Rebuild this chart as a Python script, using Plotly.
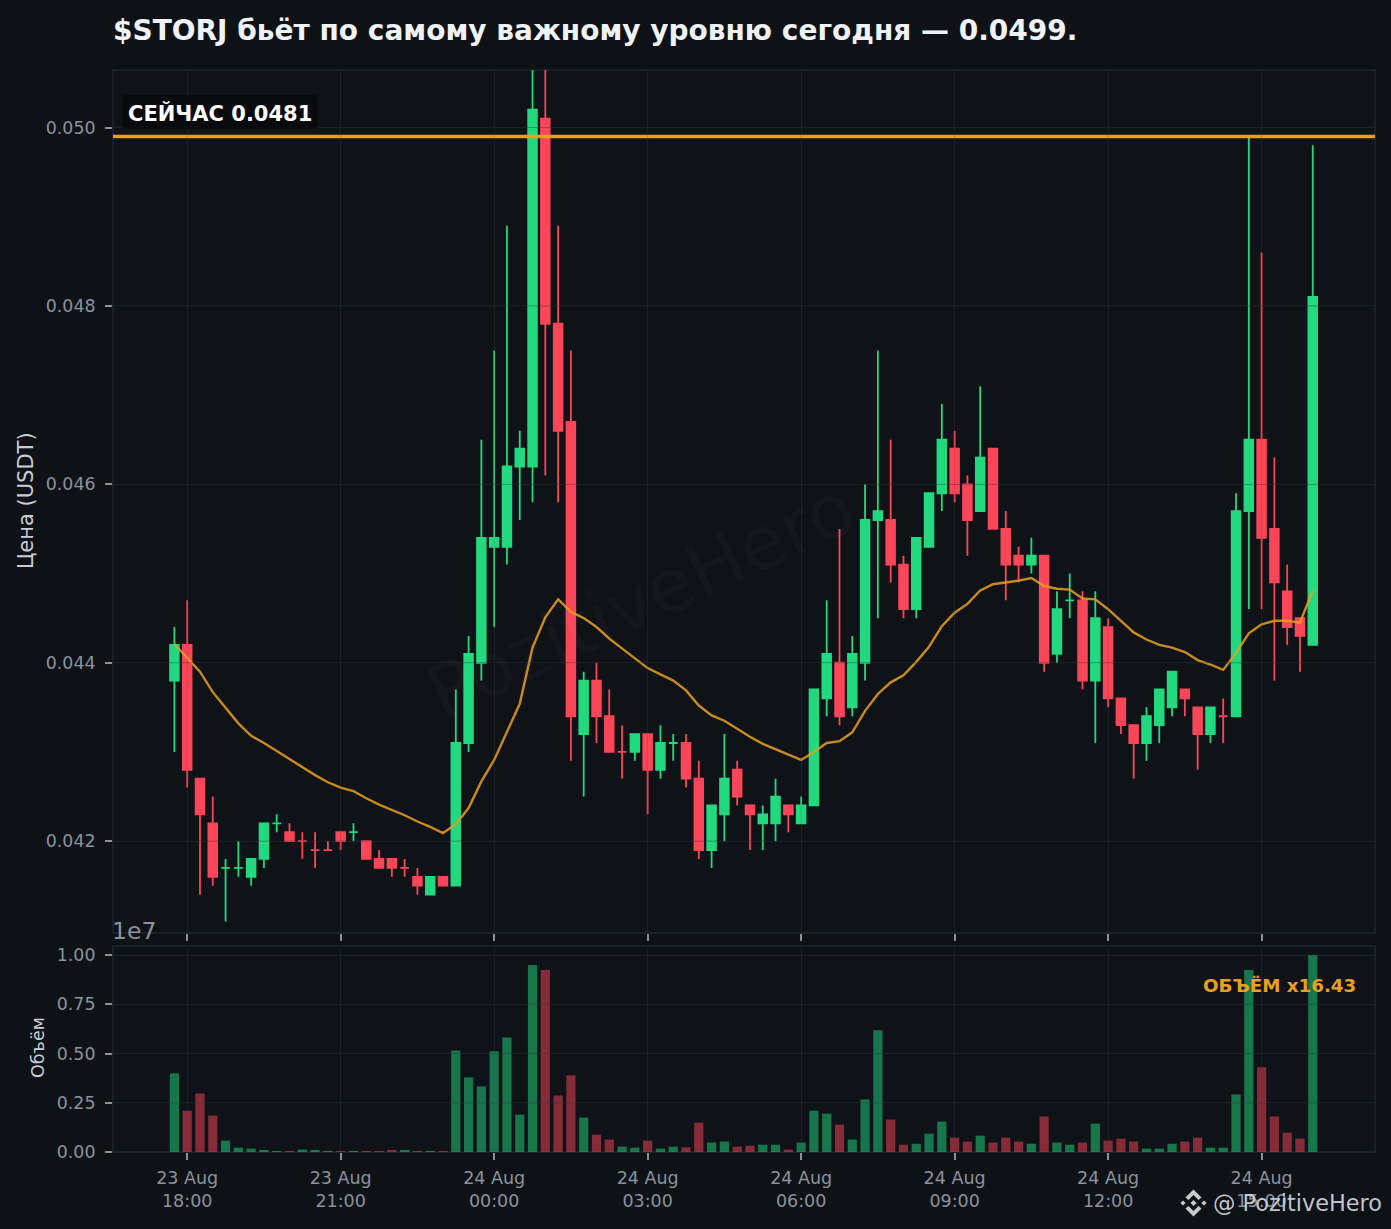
import plotly.graph_objects as go
import pandas as pd

W, H = 1391, 1229
BG = "#0e1217"
PLOT_BG = "#0f1318"
GRID = "#1b2027"
GRID_OVER = "rgba(28,33,40,0.35)"
GRID_OVER_V = "rgba(28,33,40,0.15)"
SPINE = "#1f2630"
TICK = "#8b929c"
UP = "#22d97f"
DOWN = "#fb4659"
ORANGE = "#e8a01f"

TITLE = "$STORJ бьёт по самому важному уровню сегодня — 0.0499."
LEVEL = 0.0499
NOW_LABEL = "СЕЙЧАС 0.0481"
VOL_LABEL = "ОБЪЁМ x16.43"
BRAND = "@ PozitiveHero"
WATERMARK = "PozitiveHero"

# prices in units of 0.0001
opens = [438,442,427,422,417,417,416,418,422,421,420,419,419,421,421,420,418,418,417,416,414,416,415,431,440,453,453,462,462,501,478,467,
         432,438,434,430,430,432,428,431,431,427,419,423,428,424,422,422,424,422,424,436,440,435,440,456,456,451,446,453,459,464,460,457,464,455,452,451,452,441,447,447,438,444,436,433,431,433,435,437,435,432,434,434,457,465,455,448,445,442]
highs = [444,447,427,425,418,420,418,422,423,422,421,421,420,421,422,420,419,418,418,417,416,416,437,443,465,475,489,466,510,510,489,475,
         439,440,437,433,432,432,433,432,432,429,424,432,429,424,424,427,424,425,437,447,455,443,460,475,465,452,454,459,469,466,461,471,464,457,453,454,452,448,450,448,448,445,436,433,435,437,439,437,435,435,436,459,499,486,463,451,445,498]
lows = [430,426,414,415,411,416,415,417,421,420,418,417,419,419,420,418,417,416,416,414,414,415,415,430,438,444,451,456,458,461,458,429,
        425,431,430,427,429,423,427,429,426,418,417,420,424,419,419,420,421,422,424,434,433,434,438,445,449,445,445,453,457,458,452,457,455,447,449,450,439,440,445,437,431,435,432,427,429,431,434,434,428,431,431,434,446,446,438,442,439,442]
closes = [442,428,423,416,417,417,418,422,422,420,420,419,419,420,421,418,417,417,417,415,416,415,431,441,454,454,462,464,502,478,466,434,
          438,434,430,430,432,428,431,431,427,419,424,427,425,423,423,425,423,424,437,441,434,441,456,457,451,446,454,459,465,459,456,463,455,451,451,452,440,446,447,438,445,436,433,431,434,437,439,436,432,435,434,457,465,454,449,444,443,481]
ma = [442.1,440.6,439,436.7,434.9,433.2,431.8,431,430.1,429.2,428.3,427.4,426.6,426,425.6,424.8,424.1,423.5,422.9,422.2,421.6,420.9,421.9,423.7,426.7,429.1,432.3,435.4,441.7,445.1,447.1,445.7,
      445,444,442.7,441.6,440.6,439.4,438.7,438,436.9,435.2,434.1,433.5,432.6,431.7,430.9,430.3,429.7,429.1,430,431,431.2,432.2,434.6,436.5,437.8,438.6,440.1,441.8,444.1,445.6,446.6,448.1,448.8,449,449.2,449.5,448.6,448.3,448.2,447.2,447.1,446,444.7,443.4,442.6,442,441.7,441.2,440.3,439.8,439.2,441.1,443.3,444.3,444.7,444.7,444.5,448.1]
volumes = [0.399,0.21,0.297,0.185,0.058,0.022,0.017,0.007,0.001,0.001,0.012,0.007,0.001,0.001,0.001,0.001,0.001,0.006,0.007,0.001,0.001,0.001,0.516,0.379,0.333,0.511,0.582,0.19,0.949,0.924,0.287,0.389,
           0.175,0.088,0.063,0.027,0.022,0.058,0.017,0.027,0.024,0.149,0.048,0.053,0.027,0.032,0.037,0.037,0.012,0.048,0.21,0.195,0.139,0.063,0.267,0.618,0.165,0.037,0.042,0.093,0.154,0.073,0.053,0.083,0.048,0.073,0.053,0.042,0.18,0.048,0.037,0.048,0.144,0.058,0.068,0.053,0.017,0.017,0.042,0.053,0.073,0.022,0.022,0.292,0.924,0.43,0.18,0.098,0.068,1.0]
times = pd.date_range("2025-08-23 17:45", periods=len(opens), freq="15min").strftime("%Y-%m-%d %H:%M").tolist()

tick_times = ["2025-08-23 18:00","2025-08-23 21:00","2025-08-24 00:00","2025-08-24 03:00","2025-08-24 06:00","2025-08-24 09:00","2025-08-24 12:00","2025-08-24 15:00"]
tick_labels = ["23 Aug<br>18:00","23 Aug<br>21:00","24 Aug<br>00:00","24 Aug<br>03:00","24 Aug<br>06:00","24 Aug<br>09:00","24 Aug<br>12:00","24 Aug<br>15:00"]
price_ticks = [0.042,0.044,0.046,0.048,0.050]
vol_ticks = [0,0.25,0.5,0.75,1.0]
x_range = ["2025-08-23 16:33","2025-08-24 17:13"]
price_range = [0.04097,0.050645]
vol_range = [0,1.046]

scale = lambda arr: [round(v*1e-4,5) for v in arr]
px = lambda x: x/W
py = lambda y: 1-y/H

fig = go.Figure()
fig.add_trace(go.Candlestick(x=times, open=scale(opens), high=scale(highs), low=scale(lows), close=scale(closes),
    xaxis="x", yaxis="y", whiskerwidth=0,
    increasing=dict(line=dict(color=UP,width=1.8), fillcolor=UP),
    decreasing=dict(line=dict(color=DOWN,width=1.8), fillcolor=DOWN), showlegend=False))
fig.add_trace(go.Scatter(x=times, y=scale(ma), mode="lines", line=dict(color=ORANGE,width=2.4), opacity=0.85, xaxis="x", yaxis="y", showlegend=False))
fig.add_trace(go.Scatter(x=x_range, y=[LEVEL,LEVEL], mode="lines", line=dict(color=ORANGE,width=3.5), xaxis="x", yaxis="y", showlegend=False))
vol_colors = [UP if c>=o else DOWN for o,c in zip(opens,closes)]
fig.add_trace(go.Bar(x=times, y=volumes, marker=dict(color=vol_colors,line_width=0), opacity=0.5, xaxis="x2", yaxis="y2", showlegend=False))

common_x = dict(type="date", range=x_range, tickvals=tick_times, showgrid=True, gridcolor=GRID, gridwidth=1,
                ticks="outside", ticklen=7, tickwidth=1.5, tickcolor=TICK, rangeslider=dict(visible=False),
                showline=False, zeroline=False)
common_y = dict(showgrid=True, gridcolor=GRID, gridwidth=1, ticks="outside", ticklen=7, tickwidth=1.5, tickcolor=TICK,
                ticklabelstandoff=6, tickfont=dict(family="DejaVu Sans",size=17.4,color=TICK), zeroline=False, showline=False)
sp = dict(color=SPINE,width=1.5)
shapes = [
    dict(type="rect",xref="paper",yref="paper",x0=px(113),x1=px(1375),y0=py(933),y1=py(70),line=sp,layer="below"),
    dict(type="rect",xref="paper",yref="paper",x0=px(113),x1=px(1375),y0=py(1152),y1=py(946),line=sp,layer="below"),
]
# grid drawn again over the marks, as in the reference
for xa,ya,ticks in (("x","y",price_ticks),("x2","y2",vol_ticks[1:])):
    for t in ticks:
        shapes.append(dict(type="line",xref=f"{xa} domain",yref=ya,x0=0,x1=1,y0=t,y1=t,line=dict(color=GRID_OVER,width=1),layer="above"))
    for t in tick_times:
        shapes.append(dict(type="line",xref=xa,yref=f"{ya} domain",x0=t,x1=t,y0=0,y1=1,line=dict(color=GRID_OVER_V,width=1),layer="above"))
def rounded(x0,y0,x1,y1,r):
    return f"M {px(x0+r)} {py(y0)} L {px(x1-r)} {py(y0)} Q {px(x1)} {py(y0)} {px(x1)} {py(y0+r)} L {px(x1)} {py(y1-r)} Q {px(x1)} {py(y1)} {px(x1-r)} {py(y1)} L {px(x0+r)} {py(y1)} Q {px(x0)} {py(y1)} {px(x0)} {py(y1-r)} L {px(x0)} {py(y0+r)} Q {px(x0)} {py(y0)} {px(x0+r)} {py(y0)} Z"
shapes.append(dict(type="path",xref="paper",yref="paper",path=rounded(123,95,317,129,3),fillcolor="rgba(8,10,13,0.9)",line=dict(width=0),layer="above"))
def diamond(cx,cy,r):
    return f"M {px(cx)} {py(cy-r)} L {px(cx+r)} {py(cy)} L {px(cx)} {py(cy+r)} L {px(cx-r)} {py(cy)} Z"
LOGO = "#c8ccd2"
cx, cy = 1193.5, 1203
for dx,dy,r in [(-10.5,0,2.6),(10.5,0,2.6),(0,0,3)]:
    shapes.append(dict(type="path",xref="paper",yref="paper",path=diamond(cx+dx,cy+dy,r),fillcolor=LOGO,line=dict(width=0),layer="above"))
chev_up = f"M {px(cx)} {py(cy-13.5)} L {px(cx+8)} {py(cy-5.5)} L {px(cx+5)} {py(cy-3)} L {px(cx)} {py(cy-8)} L {px(cx-5)} {py(cy-3)} L {px(cx-8)} {py(cy-5.5)} Z"
chev_dn = f"M {px(cx)} {py(cy+13.5)} L {px(cx+8)} {py(cy+5.5)} L {px(cx+5)} {py(cy+3)} L {px(cx)} {py(cy+8)} L {px(cx-5)} {py(cy+3)} L {px(cx-8)} {py(cy+5.5)} Z"
for p in (chev_up,chev_dn):
    shapes.append(dict(type="path",xref="paper",yref="paper",path=p,fillcolor=LOGO,line=dict(width=0),layer="above"))

def ann(text,x,y,size,color,xanchor="left",angle=0,bold=False,yanchor="middle"):
    return dict(text=f"<b>{text}</b>" if bold else text,xref="paper",yref="paper",x=px(x),y=py(y),showarrow=False,
                xanchor=xanchor,yanchor=yanchor,textangle=angle,font=dict(family="DejaVu Sans",size=size,color=color))
annotations = [
    ann(TITLE,111,30,28,"#f0f3f6",bold=True),
    ann(NOW_LABEL,126,113,21,"#ffffff",bold=True),
    ann(VOL_LABEL,1358,985,18.3,ORANGE,xanchor="right",bold=True),
    ann("1e7",110,931,23.5,TICK),
    ann("Цена (USDT)",26,501,21,"#c9cdd3",xanchor="center",angle=-90),
    ann("Объём",38,1048,17.5,"#c9cdd3",xanchor="center",angle=-90),
    ann(WATERMARK,640,600,74,"rgba(255,255,255,0.022)",xanchor="center",angle=-25),
    ann(BRAND,1211,1203,22.4,"rgba(205,209,215,0.95)"),
]

fig.update_layout(
    width=W,height=H,autosize=False,margin=dict(l=0,r=0,t=0,b=0,autoexpand=False),
    paper_bgcolor=BG,plot_bgcolor=PLOT_BG,boxgap=0.03,bargap=0.28,
    font=dict(family="DejaVu Sans",color=TICK),
    xaxis=dict(domain=[px(113),px(1375)],anchor="y",showticklabels=False,**common_x),
    yaxis=dict(domain=[py(933),py(70)],anchor="x",range=price_range,tickvals=price_ticks,tickformat=".3f",**common_y),
    xaxis2=dict(domain=[px(113),px(1375)],anchor="y2",showticklabels=True,ticktext=tick_labels,ticklabelstandoff=3,
                tickfont=dict(family="DejaVu Sans",size=17.5,color=TICK),**common_x),
    yaxis2=dict(domain=[py(1152),py(946)],anchor="x2",range=vol_range,tickvals=vol_ticks,tickformat=".2f",**common_y),
    shapes=shapes,annotations=annotations,hovermode=False,
)
fig.write_html("out.html",config={"displayModeBar":False},post_script="document.body.style.margin='0';document.documentElement.style.overflow='hidden';")
